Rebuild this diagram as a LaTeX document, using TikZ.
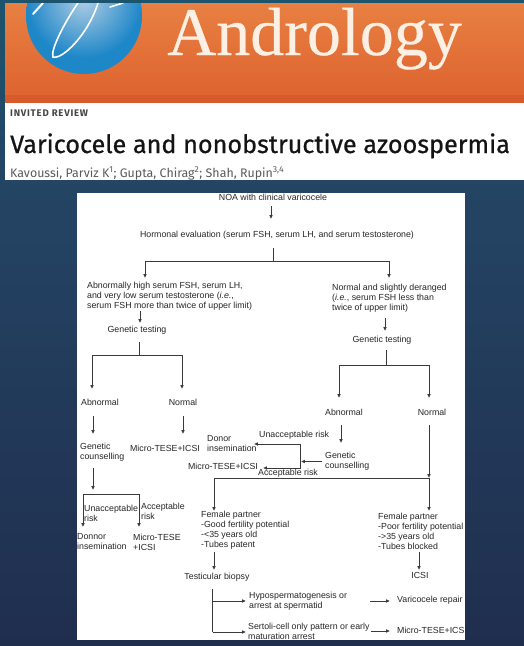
\documentclass[tikz,border=0pt]{standalone}
\usepackage{fontspec}
\setmainfont{Liberation Sans}
\newfontfamily\serifhead[FakeBold=0.35]{Liberation Serif}
\newfontfamily\firahead{Fira Sans}
\newfontfamily\firatitle[FakeBold=0.7]{Fira Sans}
\newfontfamily\firaspaced[LetterSpace=8]{Fira Sans}
\usetikzlibrary{arrows.meta}
\definecolor{inkc}{HTML}{262626}
\definecolor{linec}{HTML}{3A3A3A}
\definecolor{bgtop}{RGB}{28,84,110}
\definecolor{bgup}{RGB}{36,68,100}
\definecolor{bgmid}{RGB}{36,56,92}
\definecolor{bgbot}{RGB}{32,46,78}
\definecolor{ortop}{RGB}{232,128,66}
\definecolor{orbot}{RGB}{222,100,48}
\definecolor{orband}{RGB}{214,90,44}
\definecolor{globein}{RGB}{175,205,228}
\definecolor{globeout}{RGB}{30,135,200}
\definecolor{cream}{RGB}{252,240,228}
\definecolor{invc}{RGB}{70,70,70}
\definecolor{titlec}{RGB}{20,20,20}
\definecolor{authc}{RGB}{90,90,90}
\tikzset{
  x=1pt,y=-1pt,
  txt/.style={anchor=west,inner sep=0pt,align=left,text=inkc,font=\fontsize{8.8}{10}\selectfont},
  ctxt/.style={txt,anchor=center,align=center},
  wire/.style={draw=linec,line width=1pt},
  arr/.style={wire,-{Latex[length=3.8pt,width=3.6pt]}},
  swirl/.style={draw=white,line width=1.6pt,line cap=round},
}
\begin{document}
\begin{tikzpicture}
\useasboundingbox (0,0) rectangle (524,646);
% backdrop
\fill[top color=bgtop,bottom color=bgup] (0,0) rectangle (524,190);
\fill[top color=bgup,middle color=bgmid,bottom color=bgbot] (0,190) rectangle (524,646);
% journal banner
\fill[white] (5,3) rectangle (524,180);
\fill[top color=ortop,bottom color=orbot] (5,3) rectangle (524,95);
\fill[orband] (5,95) rectangle (524,103);
\begin{scope}
\clip (5,3) rectangle (524,103);
\fill[globeout] (84,16) circle (58);
\begin{scope}
\clip (84,16) circle (58);
\shade[inner color=globein,outer color=globeout] (84,0) circle (58);
\end{scope}
\draw[swirl] (78,3) .. controls (66,20) and (50,50) .. (53,57) .. controls (62,60) and (88,35) .. (98,3);
\draw[swirl,line width=2pt] (33,14) -- (43,3);
\draw[swirl] (110,7) -- (123,3);
\end{scope}
\node[anchor=base west,inner sep=0pt,text=cream,font=\serifhead\fontsize{68}{68}\selectfont] (andro) at (167,55) {Andrology};
\node[anchor=base west,inner sep=0pt,text=invc,font=\firaspaced\bfseries\fontsize{9.6}{10}\selectfont] (inv) at (10,116.5) {INVITED REVIEW};
\node[anchor=base west,inner sep=0pt,text=titlec,font=\firatitle\fontsize{25.2}{26}\selectfont] (title) at (10,153) {Varicocele and nonobstructive azoospermia};
\begin{scope}
\clip (5,3) rectangle (524,180);
\node[anchor=base west,inner sep=0pt,text=authc,font=\firahead\fontsize{12.4}{14}\selectfont] (auth) at (10,177) {Kavoussi, Parviz K\textsuperscript{1}; Gupta, Chirag\textsuperscript{2}; Shah, Rupin\textsuperscript{3,4}};
\end{scope}
% flowchart sheet
\fill[white] (77,193) rectangle (465,640);
\node[ctxt] (noa) at (273,197) {NOA with clinical varicocele};
\node[ctxt] (horm) at (277,235) {Hormonal evaluation (serum FSH, serum LH, and serum testosterone)};
\node[txt] (high) at (87,296) {Abnormally high serum FSH, serum LH,\\and very low serum testosterone (\emph{i.e.},\\serum FSH more than twice of upper limit)};
\node[txt] (norm) at (332,298) {Normal and slightly deranged\\(\emph{i.e.}, serum FSH less than\\twice of upper limit)};
\node[ctxt] (gtl) at (137,330) {Genetic testing};
\node[ctxt] (gtr) at (382,340) {Genetic testing};
\node[ctxt] (abl) at (100,402) {Abnormal};
\node[ctxt] (nol) at (183,402) {Normal};
\node[ctxt] (abr) at (344,412) {Abnormal};
\node[ctxt] (nor) at (432,412) {Normal};
\node[txt] (gcl) at (80,452) {Genetic\\counselling};
\node[txt] (gcr) at (325,461) {Genetic\\counselling};
\node[ctxt] (mtl) at (165,448) {Micro-TESE+ICSI};
\node[txt] (don) at (207,444) {Donor\\insemination};
\node[ctxt] (mtm) at (223,466) {Micro-TESE+ICSI};
\node[txt] (unm) at (259,435) {Unacceptable risk};
\node[txt] (acm) at (258,473) {Acceptable risk};
\node[txt] (unl) at (84,513) {Unacceptable\\risk};
\node[txt] (acl) at (141,511) {Acceptable\\risk};
\node[txt] (dnl) at (77,542) {Donnor\\insemination};
\node[txt] (mll) at (133,542) {Micro-TESE\\+ICSI};
\node[txt] (fgood) at (201,530) {Female partner\\-Good fertility potential\\-\textless 35 years old\\-Tubes patent};
\node[txt] (fpoor) at (378,531) {Female partner\\-Poor fertility potential\\-\textgreater 35 years old\\-Tubes blocked};
\node[ctxt] (icsi) at (420,575) {ICSI};
\node[ctxt] (biop) at (217,577) {Testicular biopsy};
\node[txt] (hypo) at (249,601) {Hypospermatogenesis or\\arrest at spermatid};
\node[txt] (sert) at (248,631) {Sertoli-cell only pattern or early\\maturation arrest};
\node[txt] (vrep) at (397,600) {Varicocele repair};
\node[txt] (mtr) at (397,630) {Micro-TESE+ICSI};
% connector junctions
\coordinate (a1) at (271,206); \coordinate (a2) at (271,219);
\coordinate (b1) at (273,248); \coordinate (b2) at (273,261.5);
\coordinate (bl) at (145,261.5); \coordinate (bl2) at (145,278);
\coordinate (br) at (389,261.5); \coordinate (br2) at (389,278);
\coordinate (c1) at (140,311); \coordinate (c2) at (140,323);
\coordinate (d1) at (139,342); \coordinate (d2) at (139,355.5);
\coordinate (dl) at (92,355.5); \coordinate (dl2) at (92,389);
\coordinate (dr) at (182,355.5); \coordinate (dr2) at (182,389);
\coordinate (e1) at (385,318); \coordinate (e2) at (385,331);
\coordinate (f1) at (386,350); \coordinate (f2) at (386,365.5);
\coordinate (fl) at (339,365.5); \coordinate (fl2) at (339,398);
\coordinate (fr) at (429,365.5); \coordinate (fr2) at (429,398);
\coordinate (g1) at (93,416); \coordinate (g2) at (93,434);
\coordinate (h1) at (183,416); \coordinate (h2) at (183,434);
\coordinate (i1) at (93,468); \coordinate (i2) at (93,490);
\coordinate (il) at (83,494); \coordinate (il2) at (83,527);
\coordinate (ir) at (139,494); \coordinate (ir2) at (139,527);
\coordinate (j1) at (341,425); \coordinate (j2) at (341,443);
\coordinate (k1) at (322,461.5); \coordinate (k2) at (301,461.5);
\coordinate (ml) at (254,444); \coordinate (mt) at (300.5,444); \coordinate (mb) at (300.5,468); \coordinate (mm) at (263,468);
\coordinate (n1) at (429,425); \coordinate (n2) at (429,478); \coordinate (n3) at (429,511);
\coordinate (p1) at (429,478.7); \coordinate (p2) at (214,478.7); \coordinate (p3) at (214,511);
\coordinate (q1) at (214,552); \coordinate (q2) at (214,570);
\coordinate (r1) at (419,552); \coordinate (r2) at (419,570);
\coordinate (s1) at (212.5,589); \coordinate (s2) at (212.5,601); \coordinate (s3) at (212.5,632);
\coordinate (s4) at (246,601); \coordinate (s5) at (246,632);
\coordinate (t1) at (370,601); \coordinate (t2) at (390,601);
\coordinate (u1) at (371,631); \coordinate (u2) at (390,631);
% connectors
\draw[arr] (a1) -- (a2);
\draw[wire] (b1) -- (b2);
\draw[arr] (b2) -- (bl) -- (bl2);
\draw[arr] (b2) -- (br) -- (br2);
\draw[arr] (c1) -- (c2);
\draw[wire] (d1) -- (d2);
\draw[arr] (d2) -- (dl) -- (dl2);
\draw[arr] (d2) -- (dr) -- (dr2);
\draw[arr] (e1) -- (e2);
\draw[wire] (f1) -- (f2);
\draw[arr] (f2) -- (fl) -- (fl2);
\draw[arr] (f2) -- (fr) -- (fr2);
\draw[arr] (g1) -- (g2);
\draw[arr] (h1) -- (h2);
\draw[arr] (i1) -- (i2);
\draw[arr] (il) -- (il2);
\draw[arr] (ir) -- (ir2);
\draw[wire] (il) -- (ir);
\draw[arr] (j1) -- (j2);
\draw[arr] (k1) -- (k2);
\draw[arr] (mt) -- (ml);
\draw[wire] (mt) -- (mb);
\draw[arr] (mb) -- (mm);
\draw[arr] (n1) -- (n2);
\draw[arr] (n2) -- (n3);
\draw[arr] (p1) -- (p2) -- (p3);
\draw[arr] (q1) -- (q2);
\draw[arr] (r1) -- (r2);
\draw[wire] (s1) -- (s3);
\draw[arr] (s2) -- (s4);
\draw[arr] (s3) -- (s5);
\draw[arr] (t1) -- (t2);
\draw[arr] (u1) -- (u2);
\end{tikzpicture}
\end{document}
